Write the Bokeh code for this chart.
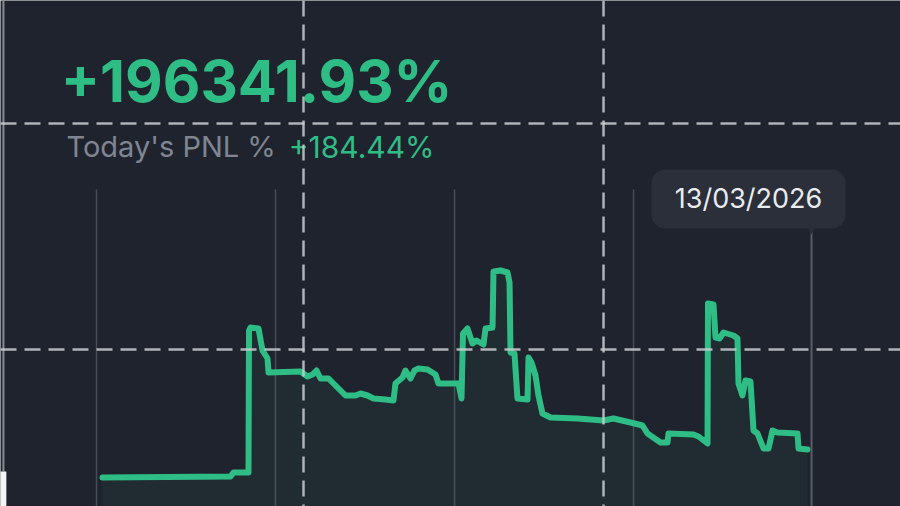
from bokeh.plotting import figure
from bokeh.models import Range1d, Label, Span, BoxAnnotation
from bokeh.embed import file_html
from bokeh.resources import INLINE

# ---- data ----
total_pnl_text = "+196341.93%"
today_label = "Today's PNL %"
today_pnl_text = "+184.44%"
tooltip_date = "13/03/2026"

days = [1.0, 22.46, 22.96, 25.47, 25.56, 25.81, 27.15, 27.82, 28.66, 28.83,
        34.19, 35.36, 36.2, 36.87, 37.54, 38.88, 40.39, 41.73, 43.41, 44.24,
        45.42, 46.42, 48.43, 49.77, 50.1, 51.28, 51.78, 52.62, 53.29, 53.96,
        55.47, 56.81, 57.31, 60.67, 61.17, 61.42, 62.17, 63.01, 63.68, 64.86,
        65.19, 66.37, 66.53, 67.71, 68.88, 69.22, 69.38, 70.05, 70.55, 72.23,
        72.4, 72.9, 73.57, 74.07, 74.74, 76.09, 80.61, 84.97, 86.64, 89.49,
        91.5, 92.34, 94.52, 95.69, 95.86, 100.05, 100.89, 102.4, 102.48, 103.4,
        103.74, 104.41, 105.08, 106.75, 107.42, 107.59, 108.26, 108.76, 109.6, 110.11,
        110.78, 111.78, 112.62, 113.29, 114.13, 117.48, 117.65, 119.16]
values = [3, 4, 8, 8, 150, 153, 152, 130, 122, 108,
          109, 104, 106, 110, 102, 102, 93, 85, 85, 87,
          85, 82, 81, 80, 97, 103, 110, 102, 110, 112,
          111, 106, 97, 97, 82, 147, 152, 137, 140, 136,
          152, 153, 209, 210, 208, 198, 128, 127, 82, 81,
          123, 118, 105, 85, 67, 63, 62, 60, 62, 58,
          55, 47, 38, 38, 47, 46, 44, 37, 177, 176,
          143, 142, 148, 145, 142, 97, 85, 100, 99, 50,
          47, 32, 32, 50, 48, 47, 32, 31]
grid_days = [0, 30, 60, 90]
hover_day = 119.83

BG = "#1f232d"
GREEN = "#2ebd85"
Y_MIN, Y_MAX = -26, 480

p = figure(width=900, height=506,
           x_range=Range1d(-16.09, 134.74), y_range=Range1d(Y_MIN, Y_MAX),
           output_backend="svg", toolbar_location=None,
           x_axis_location=None, y_axis_location=None,
           min_border=0, background_fill_color=BG, border_fill_color=BG,
           outline_line_color=None)
p.grid.visible = False

# vertical grid lines
p.segment(x0=grid_days, y0=[291] * len(grid_days), x1=grid_days, y1=[Y_MIN] * len(grid_days),
          line_color="#474c57", line_width=1.5)

# area + line
p.varea(x=days, y1=[Y_MIN] * len(days), y2=values, fill_color=GREEN, fill_alpha=0.06)
p.line(days, values, line_color=GREEN, line_width=6, line_join="round", line_cap="round")

# hover crosshair
p.segment(x0=[hover_day], y0=[252], x1=[hover_day], y1=[Y_MIN], line_color="#585d66", line_width=2)

# tooltip
box = BoxAnnotation(left=93.01, right=125.52, bottom=252, top=311,
                    fill_color="#2a2f39", fill_alpha=1.0, line_color=None, border_radius=14)
p.add_layout(box)
p.scatter(x=[hover_day], y=[250], marker="inverted_triangle", size=7,
          fill_color="#2a2f39", line_color=None)
p.add_layout(Label(x=109.27, y=282, text=tooltip_date, text_align="center",
                   text_baseline="middle", text_color="#e9ebee",
                   text_font="Inter", text_font_size="27px"))

# header texts
p.add_layout(Label(x=-6.0, y=400, text=total_pnl_text, text_baseline="alphabetic",
                   text_font="Inter", text_font_style="bold", text_font_size="58px",
                   text_color=GREEN))
p.add_layout(Label(x=-5.03, y=334, text=today_label, text_baseline="alphabetic",
                   text_font="Inter", text_font_size="29px", text_color="#7f8591"))
p.add_layout(Label(x=32.2, y=334, text=today_pnl_text, text_baseline="alphabetic",
                   text_font="Inter", text_font_size="30px", text_color=GREEN))

# left edge line and bottom-left light strip
p.segment(x0=[-15.6], y0=[Y_MAX], x1=[-15.6], y1=[9], line_color="#8a8d92", line_width=2)
p.segment(x0=[-15.7], y0=[9], x1=[-15.7], y1=[Y_MIN], line_color="#f4f4f4", line_width=7)

# dashed overlay guides
for loc, dim in [(357, "width"), (131, "width"), (34.69, "height"), (84.97, "height")]:
    p.add_layout(Span(location=loc, dimension=dim, line_color="#c9cbcf", line_alpha=0.85,
                      line_width=2.5, line_dash="16 8"))

open("out.html", "w").write(file_html(p, INLINE))
